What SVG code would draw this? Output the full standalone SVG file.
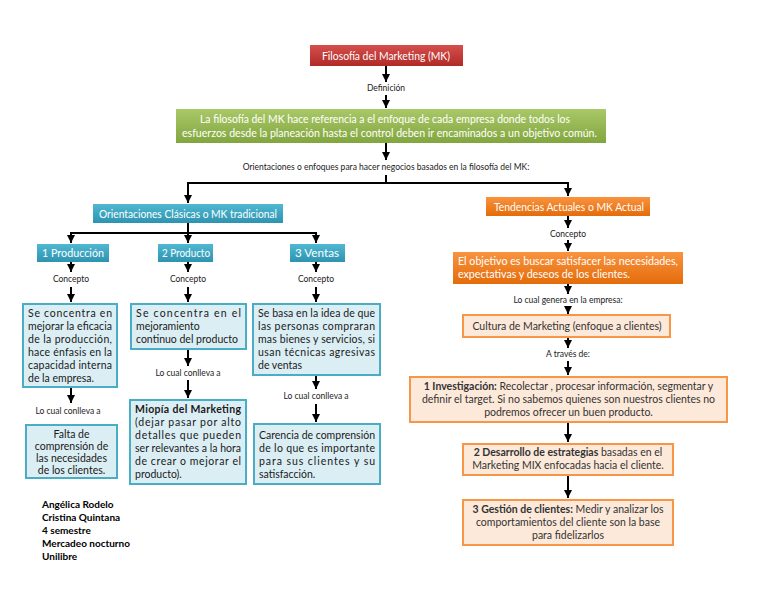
<svg xmlns="http://www.w3.org/2000/svg" width="768" height="594" viewBox="0 0 768 594">
<defs>
<linearGradient id="gRed" x1="0" y1="0" x2="0" y2="1"><stop offset="0" stop-color="#d5504c"/><stop offset="1" stop-color="#b02a27"/></linearGradient>
<linearGradient id="gGreen" x1="0" y1="0" x2="0" y2="1"><stop offset="0" stop-color="#a9c868"/><stop offset="1" stop-color="#82a63f"/></linearGradient>
<linearGradient id="gBlue" x1="0" y1="0" x2="0" y2="1"><stop offset="0" stop-color="#4fb8d2"/><stop offset="1" stop-color="#2e93b0"/></linearGradient>
<linearGradient id="gOrange" x1="0" y1="0" x2="0" y2="1"><stop offset="0" stop-color="#f9933f"/><stop offset="1" stop-color="#e46c0a"/></linearGradient>
<marker id="ah" viewBox="0 0 10 10" refX="10" refY="5" markerWidth="8" markerHeight="8" markerUnits="userSpaceOnUse" orient="auto"><path d="M0,0 L10,5 L0,10 z" fill="#000"/></marker>
</defs>
<style>
text{font-family:Lato,"Liberation Sans",sans-serif;}
.w{fill:#fff;font-size:11px;}
.lab{fill:#222;font-size:8.5px;text-anchor:middle;}
.b{fill:#1a1a1a;font-size:10.5px;}
.o{fill:#333;font-size:10.5px;text-anchor:middle;}
.c{text-anchor:middle;}
.lb{fill:#dbeef4;stroke:#4bacc6;stroke-width:2;}
.lo{fill:#fde9d9;stroke:#f79646;stroke-width:2;}
.auth{fill:#000;font-size:10px;font-weight:bold;}
#conn path{fill:none;stroke:#000;stroke-width:2;}
</style>
<rect width="768" height="594" fill="#fff"/>

<g id="conn">
<path d="M386,66 V82" marker-end="url(#ah)"/>
<path d="M386,95 V108" marker-end="url(#ah)"/>
<path d="M386,143 V160" marker-end="url(#ah)"/>
<path d="M386,175 V183 H188 V203" marker-end="url(#ah)"/>
<path d="M386,183 H568 V196" marker-end="url(#ah)"/>
<path d="M188,223 V233 H71 V243" marker-end="url(#ah)"/>
<path d="M188,233 V243" marker-end="url(#ah)"/>
<path d="M188,233 H316 V243" marker-end="url(#ah)"/>
<path d="M71,262 V272" marker-end="url(#ah)"/>
<path d="M188,262 V272" marker-end="url(#ah)"/>
<path d="M316,262 V272" marker-end="url(#ah)"/>
<path d="M71,287 V302" marker-end="url(#ah)"/>
<path d="M188,287 V302" marker-end="url(#ah)"/>
<path d="M316,287 V302" marker-end="url(#ah)"/>
<path d="M71,388 V403" marker-end="url(#ah)"/>
<path d="M188,350 V366" marker-end="url(#ah)"/>
<path d="M188,380 V398" marker-end="url(#ah)"/>
<path d="M316,376 V389" marker-end="url(#ah)"/>
<path d="M316,404 V422" marker-end="url(#ah)"/>
<path d="M568,216 V228" marker-end="url(#ah)"/>
<path d="M568,240 V251" marker-end="url(#ah)"/>
<path d="M568,284 V294" marker-end="url(#ah)"/>
<path d="M568,306 V314" marker-end="url(#ah)"/>
<path d="M568,338 V348" marker-end="url(#ah)"/>
<path d="M568,361 V375" marker-end="url(#ah)"/>
<path d="M568,423 V442" marker-end="url(#ah)"/>
<path d="M568,476 V498" marker-end="url(#ah)"/>
</g>

<g id="n-title"><rect x="310" y="45" width="153" height="21" fill="url(#gRed)"/><text class="w" x="322" y="59.5" textLength="128" lengthAdjust="spacingAndGlyphs">Filosofía del Marketing (MK)</text></g>
<g id="l-def"><text class="lab" x="386" y="91">Definición</text></g>
<g id="n-def"><rect x="176" y="109" width="430" height="34" fill="url(#gGreen)"/>
<text class="w" x="200" y="123" textLength="370" lengthAdjust="spacingAndGlyphs">La filosofía del MK hace referencia a el enfoque de cada empresa donde todos los</text>
<text class="w" x="182" y="137" textLength="415" lengthAdjust="spacingAndGlyphs">esfuerzos desde la planeación hasta el control deben ir encaminados a un objetivo común.</text></g>
<g id="l-ori"><text class="lab" x="386" y="170">Orientaciones o enfoques para hacer negocios basados en la filosofía del MK:</text></g>

<g id="n-clas"><rect x="93" y="204" width="190" height="19" fill="url(#gBlue)"/><text class="w" x="99" y="217.5" textLength="178" lengthAdjust="spacingAndGlyphs">Orientaciones Clásicas o MK tradicional</text></g>
<g id="n-p1"><rect x="37" y="244" width="72" height="18" fill="url(#gBlue)"/><text class="w" x="42" y="256.5" textLength="62" lengthAdjust="spacingAndGlyphs">1 Producción</text></g>
<g id="n-p2"><rect x="158" y="244" width="55" height="18" fill="url(#gBlue)"/><text class="w" x="162" y="256.5" textLength="48" lengthAdjust="spacingAndGlyphs">2 Producto</text></g>
<g id="n-p3"><rect x="290" y="244" width="55" height="18" fill="url(#gBlue)"/><text class="w" x="295" y="256.5" textLength="44" lengthAdjust="spacingAndGlyphs">3 Ventas</text></g>
<g id="l-c1"><text class="lab" x="71" y="282">Concepto</text></g>
<g id="l-c2"><text class="lab" x="188" y="282">Concepto</text></g>
<g id="l-c3"><text class="lab" x="316" y="282">Concepto</text></g>

<g id="n-d1"><rect class="lb" x="23" y="304" width="94" height="83"/>
<text class="b" x="28" y="317" textLength="84" lengthAdjust="spacing">Se concentra en</text>
<text class="b" x="28" y="330" textLength="84" lengthAdjust="spacing">mejorar la eficacia</text>
<text class="b" x="28" y="343" textLength="84" lengthAdjust="spacing">de la producción,</text>
<text class="b" x="28" y="356" textLength="84" lengthAdjust="spacing">hace énfasis en la</text>
<text class="b" x="28" y="369" textLength="84" lengthAdjust="spacing">capacidad interna</text>
<text class="b" x="28" y="382">de la empresa.</text></g>
<g id="n-d2"><rect class="lb" x="131" y="304" width="115" height="45"/>
<text class="b" x="136" y="317" textLength="105" lengthAdjust="spacing">Se concentra en el</text>
<text class="b" x="136" y="330">mejoramiento</text>
<text class="b" x="136" y="343">continuo del producto</text></g>
<g id="n-d3"><rect class="lb" x="253" y="304" width="127" height="71"/>
<text class="b" x="258" y="317" textLength="117" lengthAdjust="spacing">Se basa en la idea de que</text>
<text class="b" x="258" y="330" textLength="117" lengthAdjust="spacing">las personas compraran</text>
<text class="b" x="258" y="343" textLength="117" lengthAdjust="spacing">mas bienes y servicios, si</text>
<text class="b" x="258" y="356" textLength="117" lengthAdjust="spacing">usan técnicas agresivas</text>
<text class="b" x="258" y="369">de ventas</text></g>

<g id="l-lc1"><text class="lab" x="68" y="414">Lo cual conlleva a</text></g>
<g id="l-lc2"><text class="lab" x="188" y="376">Lo cual conlleva a</text></g>
<g id="l-lc3"><text class="lab" x="316" y="399">Lo cual conlleva a</text></g>

<g id="n-e1"><rect class="lb" x="26" y="425" width="91" height="53"/>
<text class="b c" x="71.5" y="438">Falta de</text>
<text class="b c" x="71.5" y="450">comprensión de</text>
<text class="b c" x="71.5" y="462">las necesidades</text>
<text class="b c" x="71.5" y="474">de los clientes.</text></g>
<g id="n-e2"><rect class="lb" x="130" y="400" width="116" height="84"/>
<text class="b" x="135" y="413" font-weight="bold" textLength="106" lengthAdjust="spacing">Miopía del Marketing</text>
<text class="b" x="135" y="426" textLength="106" lengthAdjust="spacing">(dejar pasar por alto</text>
<text class="b" x="135" y="439" textLength="106" lengthAdjust="spacing">detalles que pueden</text>
<text class="b" x="135" y="452" textLength="106" lengthAdjust="spacing">ser relevantes a la hora</text>
<text class="b" x="135" y="465" textLength="106" lengthAdjust="spacing">de crear o mejorar el</text>
<text class="b" x="135" y="478">producto).</text></g>
<g id="n-e3"><rect class="lb" x="254" y="424" width="126" height="60"/>
<text class="b" x="259" y="439" textLength="116" lengthAdjust="spacing">Carencia de comprensión</text>
<text class="b" x="259" y="452" textLength="116" lengthAdjust="spacing">de lo que es importante</text>
<text class="b" x="259" y="465" textLength="116" lengthAdjust="spacing">para sus clientes y su</text>
<text class="b" x="259" y="478">satisfacción.</text></g>

<g id="authors">
<text class="auth" x="42" y="508">Angélica Rodelo</text>
<text class="auth" x="42" y="521">Cristina Quintana</text>
<text class="auth" x="42" y="534">4 semestre</text>
<text class="auth" x="42" y="547">Mercadeo nocturno</text>
<text class="auth" x="42" y="560">Unilibre</text>
</g>

<g id="n-tend"><rect x="486" y="197" width="164" height="19" fill="url(#gOrange)"/><text class="w" x="494" y="210.5" textLength="150" lengthAdjust="spacingAndGlyphs">Tendencias Actuales o MK Actual</text></g>
<g id="l-c4"><text class="lab" x="568" y="237">Concepto</text></g>
<g id="n-obj"><rect x="453" y="252" width="230" height="32" fill="url(#gOrange)"/>
<text class="w" x="458" y="265" textLength="220" lengthAdjust="spacingAndGlyphs">El objetivo es buscar satisfacer las necesidades,</text>
<text class="w" x="458" y="278" textLength="172" lengthAdjust="spacingAndGlyphs">expectativas  y deseos de los clientes.</text></g>
<g id="l-gen"><text class="lab" x="568" y="303">Lo cual genera en la empresa:</text></g>
<g id="n-cult"><rect class="lo" x="463" y="315" width="207" height="22"/><text class="o" x="567" y="330" font-size="11">Cultura de Marketing (enfoque a clientes)</text></g>
<g id="l-atr"><text class="lab" x="568" y="357">A través de:</text></g>
<g id="n-inv"><rect class="lo" x="410" y="377" width="317" height="45"/>
<text class="o" x="568.5" y="390"><tspan font-weight="bold">1 Investigación:</tspan> Recolectar , procesar información, segmentar y</text>
<text class="o" x="568.5" y="403">definir el target. Si no sabemos quienes son nuestros clientes no</text>
<text class="o" x="568.5" y="416">podremos ofrecer un buen producto.</text></g>
<g id="n-des"><rect class="lo" x="463" y="444" width="210" height="31"/>
<text class="o" x="568" y="456"><tspan font-weight="bold">2 Desarrollo de estrategias</tspan> basadas en el</text>
<text class="o" x="568" y="469">Marketing MIX enfocadas hacia el cliente.</text></g>
<g id="n-ges"><rect class="lo" x="463" y="500" width="210" height="45"/>
<text class="o" x="568" y="513"><tspan font-weight="bold">3 Gestión de clientes:</tspan> Medir y analizar los</text>
<text class="o" x="568" y="526">comportamientos del cliente son la base</text>
<text class="o" x="568" y="539">para fidelizarlos</text></g>
</svg>
